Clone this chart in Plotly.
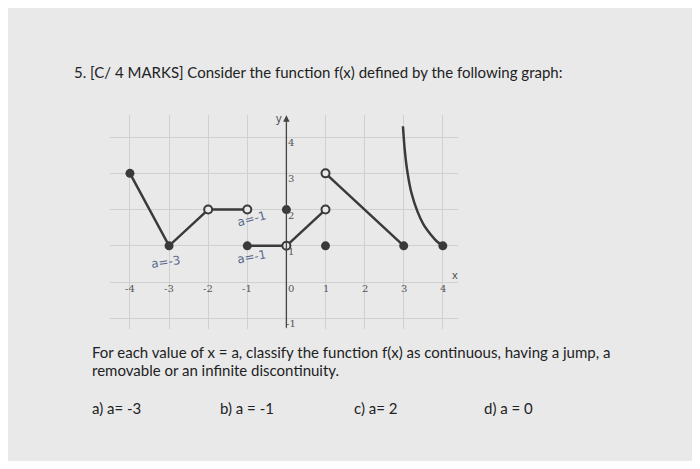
import plotly.graph_objects as go

# piecewise segments of f(x)
seg_x = [[-4, -3, -2], [-2, -1], [-1, 0], [0, 1], [1, 3]]
seg_y = [[3, 1, 2], [2, 2], [1, 1], [1, 2], [3, 1]]
curve_x = [2.98, 3.03, 3.1, 3.2, 3.35, 3.5, 3.7, 3.85, 4.0]
curve_y = [4.3, 3.6, 3.0, 2.45, 1.95, 1.6, 1.3, 1.12, 1.0]
filled_x = [-4, -3, -1, 0, 1, 3, 4]
filled_y = [3, 1, 1, 2, 1, 1, 1]
open_x = [-2, -1, 0, 1, 1]
open_y = [2, 2, 1, 2, 3]
xticks = [-4, -3, -2, -1, 0, 1, 2, 3, 4]
yticks = [-1, 1, 2, 3, 4]
notes = [("a=-3", -3.1, 0.55, -8), ("a=-1", -0.9, 1.75, -15), ("a=-1", -0.9, 0.7, -10)]

W, H, PAD = 684, 453, 8
INK = "#3a3a3a"
BG = "#e9e9ea"
fig = go.Figure()
for xs, ys in zip(seg_x, seg_y):
    fig.add_trace(go.Scatter(x=xs, y=ys, mode="lines", line=dict(color=INK, width=2.5)))
fig.add_trace(go.Scatter(x=curve_x, y=curve_y, mode="lines",
                         line=dict(color=INK, width=2.5, shape="spline")))
fig.add_trace(go.Scatter(x=filled_x, y=filled_y, mode="markers",
                         marker=dict(size=9, color=INK)))
fig.add_trace(go.Scatter(x=open_x, y=open_y, mode="markers",
                         marker=dict(size=8, color=BG, line=dict(color=INK, width=2))))

ann = []
for t in xticks:
    ann.append(dict(x=t + (0.12 if t == 0 else 0), y=-0.18, text=str(t), showarrow=False,
                    font=dict(size=10, color="#555", family="DejaVu Serif")))
for t in yticks:
    ann.append(dict(x=0.13, y=t - 0.15, text=str(t), showarrow=False,
                    font=dict(size=10, color="#555", family="DejaVu Serif")))
ann.append(dict(x=4.3, y=0.22, text="x", showarrow=False, font=dict(size=11, color="#444")))
ann.append(dict(x=-0.2, y=4.55, text="y", showarrow=False, font=dict(size=11, color="#444")))
# axis arrows
ann.append(dict(x=4.45, y=0, ax=-4.6, ay=0, xref="x", yref="y", axref="x", ayref="y",
                showarrow=True, arrowhead=2, arrowwidth=1.3, arrowcolor="#444", text=""))
ann.append(dict(x=0, y=4.6, ax=0, ay=-1.3, xref="x", yref="y", axref="x", ayref="y",
                showarrow=True, arrowhead=2, arrowwidth=1.3, arrowcolor="#444", text=""))
for text, x, y, ang in notes:
    ann.append(dict(x=x, y=y, text=text, showarrow=False, textangle=ang,
                    font=dict(size=12, color="#5a6a8a", family="DejaVu Sans")))

F = dict(family="Lato", size=15, color="#222")
page = [
    (72, 72, "5. [C/ 4 MARKS] Consider the function f(x) defined by the following graph:"),
    (90, 352, "For each value of x = a, classify the function f(x) as continuous, having a jump, a"),
    (90, 370, "removable or an infinite discontinuity."),
    (90, 408, "a) a= -3"),
    (218, 408, "b) a = -1"),
    (352, 408, "c) a= 2"),
    (482, 408, "d) a = 0"),
]
for px, py, text in page:
    ann.append(dict(xref="paper", yref="paper", x=(px - PAD) / W, y=1 - (py - PAD) / H,
                    text=text, xanchor="left", yanchor="middle", showarrow=False, font=F))

fig.update_layout(
    width=W, height=H, margin=dict(l=0, r=0, t=0, b=0),
    paper_bgcolor=BG, plot_bgcolor=BG, showlegend=False,
    annotations=ann,
    xaxis=dict(range=[-4.5, 4.4], domain=[0.1497, 0.6586], dtick=1, tick0=0,
               showticklabels=False, gridcolor="#d0d0d0", zeroline=False, fixedrange=True),
    yaxis=dict(range=[-1.3, 4.6], domain=[0.291, 0.763], dtick=1, tick0=0,
               showticklabels=False, gridcolor="#d0d0d0", zeroline=False, fixedrange=True),
)
fig.write_html("out.html")
